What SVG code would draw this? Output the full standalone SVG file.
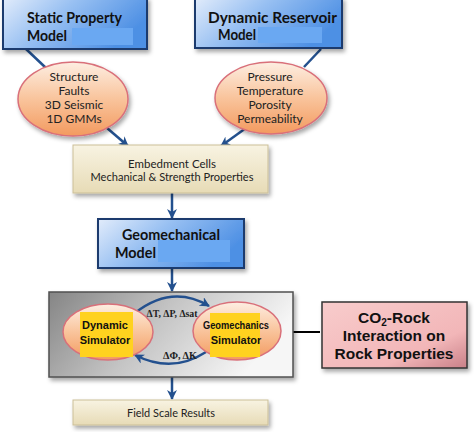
<svg xmlns="http://www.w3.org/2000/svg" width="474" height="434" viewBox="0 0 474 434">
<defs>
<style>
.hdr{font-family:Lato,"Liberation Sans",sans-serif;font-weight:bold;font-size:15px;fill:#111}
.ell{font-family:Lato,"Liberation Sans",sans-serif;font-size:12px;fill:#222;text-anchor:middle}
.box{font-family:Lato,"Liberation Sans",sans-serif;font-size:11.5px;fill:#222;text-anchor:middle}
.sim{font-family:"Liberation Sans",Arial,sans-serif;font-weight:bold;font-size:11px;fill:#111;text-anchor:middle}
.dl{font-family:"Liberation Serif","Times New Roman",serif;font-weight:bold;font-size:11px;fill:#222;text-anchor:middle}
.co2{font-family:"Liberation Sans",Arial,sans-serif;font-weight:bold;font-size:15.5px;fill:#111;text-anchor:middle}
.con{stroke:#23508e;stroke-width:2.5;fill:none}
.blue{fill:url(#gBlue);stroke:#1d3b6e;stroke-width:2}
.peach{fill:url(#gPeach);stroke:#d9707a;stroke-width:1.5}
.beige{fill:url(#gBeige);stroke:#cbbf98;stroke-width:1}
.hl{fill:#6aa8f2}
.yel{fill:#ffd21f}
</style>
<linearGradient id="gBlue" x1="0" y1="0" x2="1" y2="0.4">
<stop offset="0" stop-color="#e2ecfb"/>
<stop offset="0.45" stop-color="#98c0f2"/>
<stop offset="1" stop-color="#4e90e4"/>
</linearGradient>
<linearGradient id="gPeach" x1="0" y1="0" x2="0" y2="1">
<stop offset="0" stop-color="#fdeee2"/>
<stop offset="0.5" stop-color="#f9c49c"/>
<stop offset="1" stop-color="#f39a5f"/>
</linearGradient>
<linearGradient id="gBeige" x1="0" y1="0" x2="0" y2="1">
<stop offset="0" stop-color="#f8f3e2"/>
<stop offset="1" stop-color="#e7dbb6"/>
</linearGradient>
<linearGradient id="gGray" x1="0" y1="0" x2="1" y2="0.3">
<stop offset="0" stop-color="#858585"/>
<stop offset="0.5" stop-color="#c4c4c4"/>
<stop offset="1" stop-color="#f6f6f6"/>
</linearGradient>
<linearGradient id="gPink" x1="0" y1="0" x2="1" y2="1">
<stop offset="0" stop-color="#f8cccc"/>
<stop offset="0.7" stop-color="#f2b6b8"/>
<stop offset="1" stop-color="#c98088"/>
</linearGradient>
<filter id="sh" x="-10%" y="-10%" width="125%" height="135%">
<feDropShadow dx="2" dy="3" stdDeviation="2" flood-color="#000" flood-opacity="0.35"/>
</filter>
<marker id="ab" viewBox="0 0 10 10" refX="9" refY="5" markerWidth="4" markerHeight="4" orient="auto" markerUnits="strokeWidth">
<path d="M0,0 L10,5 L0,10 L3,5 z" fill="#23508e"/>
</marker>
<marker id="ak" viewBox="0 0 10 10" refX="9" refY="5" markerWidth="5" markerHeight="5" orient="auto" markerUnits="strokeWidth">
<path d="M1,1 L9,5 L1,9" fill="none" stroke="#000" stroke-width="1.6"/>
</marker>
</defs>
<rect width="474" height="434" fill="#fff"/>

<g id="connectors">
<line class="con" x1="26" y1="49" x2="46" y2="68"/>
<line class="con" x1="107" y1="128" x2="128" y2="146" marker-end="url(#ab)"/>
<line class="con" x1="321" y1="49" x2="304" y2="67"/>
<line class="con" x1="246" y1="128" x2="221" y2="146" marker-end="url(#ab)"/>
<line class="con" x1="172" y1="193" x2="172" y2="218" marker-end="url(#ab)"/>
<line class="con" x1="172" y1="268" x2="172" y2="291" marker-end="url(#ab)"/>
<line class="con" x1="172" y1="377" x2="172" y2="399" marker-end="url(#ab)"/>
<line x1="320" y1="332" x2="283" y2="332" stroke="#000" stroke-width="2" marker-end="url(#ak)"/>
</g>

<g id="static-model">
<rect class="blue" x="3" y="-2" width="144" height="51" filter="url(#sh)"/>
<rect class="hl" x="72" y="28" width="61" height="17"/>
<text class="hdr" x="27" y="23" textLength="95" lengthAdjust="spacingAndGlyphs">Static Property</text>
<text class="hdr" x="27" y="41" textLength="40" lengthAdjust="spacingAndGlyphs">Model</text>
</g>

<g id="dynamic-model">
<rect class="blue" x="195" y="-2" width="147" height="50" filter="url(#sh)"/>
<rect class="hl" x="258" y="27" width="64" height="16"/>
<text class="hdr" x="208" y="23" textLength="129" lengthAdjust="spacingAndGlyphs">Dynamic Reservoir</text>
<text class="hdr" x="218" y="39.5" textLength="38" lengthAdjust="spacingAndGlyphs">Model</text>
</g>

<g id="static-props">
<ellipse class="peach" cx="73" cy="99" rx="55" ry="37" filter="url(#sh)"/>
<text class="ell" x="74" y="81">Structure</text>
<text class="ell" x="74" y="95">Faults</text>
<text class="ell" x="74" y="109">3D Seismic</text>
<text class="ell" x="74" y="123">1D GMMs</text>
</g>

<g id="dynamic-props">
<ellipse class="peach" cx="271" cy="98" rx="56" ry="36" filter="url(#sh)"/>
<text class="ell" x="270" y="81">Pressure</text>
<text class="ell" x="270" y="95">Temperature</text>
<text class="ell" x="270" y="109">Porosity</text>
<text class="ell" x="270" y="123">Permeability</text>
</g>

<g id="embedment">
<rect class="beige" x="73" y="145" width="195" height="48" filter="url(#sh)"/>
<text class="box" x="172" y="167.5">Embedment Cells</text>
<text class="box" x="172" y="181" textLength="163" lengthAdjust="spacingAndGlyphs">Mechanical &amp; Strength Properties</text>
</g>

<g id="geomechanical-model">
<rect class="blue" x="98" y="219" width="146" height="49" filter="url(#sh)"/>
<rect class="hl" x="158" y="240" width="72" height="22"/>
<text class="hdr" x="122" y="240" textLength="98" lengthAdjust="spacingAndGlyphs">Geomechanical</text>
<text class="hdr" x="115" y="258" textLength="41" lengthAdjust="spacingAndGlyphs">Model</text>
</g>

<g id="simulation">
<rect x="49" y="292" width="244" height="85" fill="url(#gGray)" stroke="#505050" stroke-width="1.5" filter="url(#sh)"/>
<path class="con" d="M135,313 Q172,284 209,306" marker-end="url(#ab)"/>
<path class="con" d="M206,352 Q172,374 135,355" marker-end="url(#ab)"/>
<text class="dl" x="172" y="317" textLength="51" lengthAdjust="spacingAndGlyphs">ΔT, ΔP, Δsat</text>
<text class="dl" x="180" y="359" textLength="34" lengthAdjust="spacingAndGlyphs">ΔΦ, ΔK</text>
</g>

<g id="dynamic-simulator">
<ellipse class="peach" cx="108" cy="332" rx="45" ry="28"/>
<rect class="yel" x="80" y="312" width="53" height="45"/>
<text class="sim" x="105" y="329">Dynamic</text>
<text class="sim" x="105" y="344">Simulator</text>
</g>

<g id="geomechanics-simulator">
<ellipse class="peach" cx="237" cy="331" rx="44" ry="29"/>
<rect class="yel" x="210" y="313" width="50" height="44"/>
<text class="sim" x="236" y="329" textLength="66" lengthAdjust="spacingAndGlyphs">Geomechanics</text>
<text class="sim" x="236" y="344">Simulator</text>
</g>

<g id="co2-rock">
<rect x="322" y="302" width="145" height="66" fill="url(#gPink)" stroke="#333" stroke-width="1.5" filter="url(#sh)"/>
<text class="co2" x="394" y="323">CO<tspan font-size="10" dy="3">2</tspan><tspan dy="-3">-Rock</tspan></text>
<text class="co2" x="394" y="341">Interaction on</text>
<text class="co2" x="394" y="359">Rock Properties</text>
</g>

<g id="field-results">
<rect class="beige" x="73" y="400" width="195" height="25" filter="url(#sh)"/>
<text class="box" x="171" y="417" textLength="88" lengthAdjust="spacingAndGlyphs" font-size="13">Field Scale Results</text>
</g>
</svg>
